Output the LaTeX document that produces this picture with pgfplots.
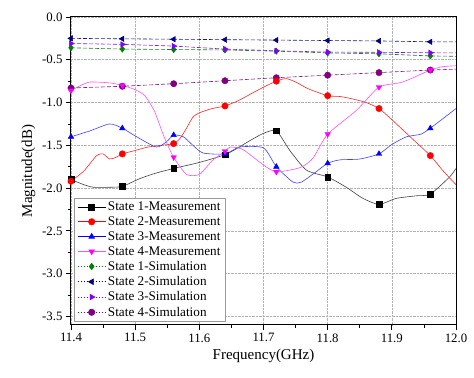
\documentclass[border=0pt]{standalone}
\usepackage{pgfplots}
\pgfplotsset{compat=1.18}
\usepackage{fontspec}
\setmainfont{Liberation Serif}
\definecolor{cmag}{RGB}{255,0,255}
\definecolor{cmagl}{RGB}{255,80,255}
\definecolor{cgreen}{RGB}{0,128,0}
\definecolor{cnavy}{RGB}{0,0,128}
\definecolor{cviolet}{RGB}{128,0,255}
\definecolor{cpurple}{RGB}{128,0,128}
\definecolor{cred}{RGB}{255,0,0}
\definecolor{cblue}{RGB}{0,0,255}
\begin{document}
\begin{tikzpicture}
\begin{axis}[
  scale only axis, width=385pt, height=308pt,
  xmin=11.4, xmax=12.0, ymin=-3.6, ymax=0,
  xtick={11.4,11.5,11.6,11.7,11.8,11.9,12.0},
  ytick={-3.5,-3.0,-2.5,-2.0,-1.5,-1.0,-0.5,0.0},
  minor x tick num=1, minor y tick num=1,
  tick pos=left, tick align=outside,
  major tick length=5pt, minor tick length=3pt,
  every tick/.style={black, line width=0.8pt},
  axis line style={line width=1pt},
  grid=major, grid style={densely dotted, gray!60, line width=0.6pt},
  tick label style={font=\fontsize{12.8}{14}\selectfont,
    /pgf/number format/fixed, /pgf/number format/fixed zerofill,
    /pgf/number format/precision=1, /pgf/number format/assume math mode=true},
  label style={font=\fontsize{15}{17}\selectfont},
  xlabel={Frequency(GHz)}, ylabel={Magnitude(dB)},
  legend cell align=left,
  legend style={at={(axis description cs:0.008,0.01)}, anchor=south west,
    font=\fontsize{13.2}{14}\selectfont, row sep=0.6pt, draw=gray!80, line width=0.6pt,
    inner xsep=3pt, inner ysep=2pt},
  legend image code/.code={\draw[mark repeat=2,mark phase=2,#1] plot coordinates {(0pt,0pt)(14pt,0pt)(28pt,0pt)};},
  mark size=3.2pt,
]
% legend entries
\addlegendimage{black, line width=0.6pt, mark=square*, mark options={solid,scale=0.9}}
\addlegendentry{State 1-Measurement}
\addlegendimage{cred, line width=0.6pt, mark=*, mark options={solid}}
\addlegendentry{State 2-Measurement}
\addlegendimage{cblue, line width=0.6pt, mark=triangle*, mark options={solid}}
\addlegendentry{State 3-Measurement}
\addlegendimage{cmagl, line width=0.6pt, mark=triangle*, mark options={solid,rotate=180,fill=cmag,draw=cmag}}
\addlegendentry{State 4-Measurement}
\addlegendimage{cgreen, line width=0.6pt, dash pattern=on 1.5pt off 1.5pt, mark=diamond*, mark options={solid}}
\addlegendentry{State 1-Simulation}
\addlegendimage{cnavy, line width=0.6pt, dash pattern=on 1.5pt off 1.5pt, mark=triangle*, mark options={solid,rotate=90}}
\addlegendentry{State 2-Simulation}
\addlegendimage{cviolet, line width=0.6pt, dash pattern=on 1.5pt off 1.5pt, mark=triangle*, mark options={solid,rotate=-90}}
\addlegendentry{State 3-Simulation}
\addlegendimage{cpurple, line width=0.6pt, dash pattern=on 1.5pt off 1.5pt, mark=*, mark options={solid}}
\addlegendentry{State 4-Simulation}

% simulations
\addplot[forget plot, cgreen!80!gray, line width=0.6pt, dash pattern=on 4pt off 2pt] coordinates {
(11.40,-0.36)(11.48,-0.375)(11.56,-0.38)(11.64,-0.385)(11.72,-0.40)(11.80,-0.42)(11.88,-0.43)(11.96,-0.455)(12.00,-0.46)};
\addplot[forget plot, cnavy!80!gray, line width=0.6pt, dash pattern=on 4pt off 2pt] coordinates {
(11.40,-0.25)(11.48,-0.255)(11.56,-0.26)(11.64,-0.265)(11.72,-0.27)(11.80,-0.275)(11.88,-0.28)(11.96,-0.29)(12.00,-0.29)};
\addplot[forget plot, cviolet!80!gray, line width=0.6pt, dash pattern=on 4pt off 2pt] coordinates {
(11.40,-0.31)(11.48,-0.32)(11.56,-0.34)(11.64,-0.375)(11.72,-0.395)(11.80,-0.41)(11.88,-0.413)(11.96,-0.418)(12.00,-0.42)};
\addplot[forget plot, cpurple!80!gray, line width=0.6pt, dash pattern=on 4pt off 2pt] coordinates {
(11.40,-0.83)(11.48,-0.81)(11.56,-0.78)(11.64,-0.745)(11.72,-0.71)(11.80,-0.68)(11.88,-0.65)(11.96,-0.62)(12.00,-0.61)};

% measurements: lines
\addplot[forget plot, black!75, line width=0.6pt, smooth, tension=0.4] coordinates {
(11.40,-1.90)(11.42,-1.96)(11.435,-1.99)(11.46,-1.99)(11.48,-1.98)(11.507,-1.89)(11.53,-1.83)(11.56,-1.77)(11.60,-1.70)(11.64,-1.61)(11.66,-1.53)(11.68,-1.44)(11.70,-1.36)(11.72,-1.33)(11.741,-1.56)(11.767,-1.79)(11.80,-1.87)(11.829,-1.99)(11.855,-2.12)(11.88,-2.19)(11.907,-2.12)(11.938,-2.09)(11.96,-2.07)(11.99,-1.87)(12.00,-1.77)};
\addplot[forget plot, cred!85, line width=0.6pt, smooth, tension=0.4] coordinates {
(11.40,-1.92)(11.42,-1.80)(11.44,-1.62)(11.45,-1.60)(11.46,-1.66)(11.47,-1.64)(11.48,-1.60)(11.50,-1.56)(11.52,-1.52)(11.54,-1.50)(11.56,-1.48)(11.57,-1.42)(11.58,-1.30)(11.59,-1.17)(11.60,-1.12)(11.62,-1.07)(11.64,-1.04)(11.66,-0.98)(11.68,-0.90)(11.70,-0.82)(11.72,-0.75)(11.735,-0.72)(11.75,-0.76)(11.77,-0.84)(11.80,-0.92)(11.82,-0.93)(11.84,-0.96)(11.86,-1.00)(11.88,-1.07)(11.90,-1.20)(11.92,-1.34)(11.94,-1.48)(11.96,-1.62)(11.98,-1.80)(12.00,-1.96)};
\addplot[forget plot, cblue!75, line width=0.6pt, smooth, tension=0.4] coordinates {
(11.40,-1.40)(11.43,-1.33)(11.46,-1.25)(11.48,-1.30)(11.50,-1.39)(11.533,-1.52)(11.55,-1.45)(11.56,-1.38)(11.575,-1.40)(11.59,-1.50)(11.606,-1.59)(11.64,-1.60)(11.663,-1.52)(11.70,-1.53)(11.72,-1.75)(11.746,-1.93)(11.759,-1.93)(11.78,-1.82)(11.80,-1.71)(11.819,-1.67)(11.85,-1.66)(11.88,-1.60)(11.90,-1.49)(11.923,-1.40)(11.945,-1.37)(11.96,-1.30)(12.00,-1.07)};
\addplot[forget plot, cmagl, line width=0.6pt, smooth, tension=0.4] coordinates {
(11.40,-0.86)(11.415,-0.80)(11.43,-0.76)(11.46,-0.77)(11.48,-0.80)(11.50,-0.85)(11.515,-0.92)(11.53,-1.10)(11.545,-1.40)(11.56,-1.64)(11.58,-1.84)(11.60,-1.84)(11.62,-1.68)(11.64,-1.57)(11.648,-1.52)(11.668,-1.55)(11.70,-1.73)(11.72,-1.81)(11.757,-1.76)(11.777,-1.65)(11.80,-1.37)(11.845,-1.09)(11.88,-0.82)(11.917,-0.76)(11.96,-0.62)(11.98,-0.58)(12.00,-0.57)};

% simulation markers
\addplot[forget plot, only marks, mark=diamond*, cgreen] coordinates {
(11.40,-0.36)(11.48,-0.375)(11.56,-0.38)(11.64,-0.385)(11.72,-0.40)(11.80,-0.42)(11.88,-0.43)(11.96,-0.455)};
\addplot[forget plot, only marks, mark=triangle*, mark options={rotate=90}, cnavy] coordinates {
(11.40,-0.25)(11.48,-0.255)(11.56,-0.26)(11.64,-0.265)(11.72,-0.27)(11.80,-0.275)(11.88,-0.28)(11.96,-0.29)};
\addplot[forget plot, only marks, mark=triangle*, mark options={rotate=-90}, cviolet] coordinates {
(11.40,-0.31)(11.48,-0.32)(11.56,-0.34)(11.64,-0.375)(11.72,-0.395)(11.80,-0.41)(11.88,-0.413)(11.96,-0.418)};
\addplot[forget plot, only marks, mark=*, cpurple] coordinates {
(11.40,-0.83)(11.48,-0.81)(11.56,-0.78)(11.64,-0.745)(11.72,-0.71)(11.80,-0.68)(11.88,-0.65)(11.96,-0.62)};

% measurement markers
\addplot[forget plot, only marks, mark=square*, mark options={scale=0.9}, black] coordinates {
(11.40,-1.90)(11.48,-1.98)(11.56,-1.77)(11.64,-1.61)(11.72,-1.33)(11.80,-1.87)(11.88,-2.19)(11.96,-2.07)};
\addplot[forget plot, only marks, mark=*, cred] coordinates {
(11.40,-1.92)(11.48,-1.60)(11.56,-1.48)(11.64,-1.04)(11.72,-0.75)(11.80,-0.92)(11.88,-1.07)(11.96,-1.62)};
\addplot[forget plot, only marks, mark=triangle*, cblue] coordinates {
(11.40,-1.40)(11.48,-1.30)(11.56,-1.38)(11.64,-1.60)(11.72,-1.75)(11.80,-1.71)(11.88,-1.60)(11.96,-1.30)};
\addplot[forget plot, only marks, mark=triangle*, mark options={rotate=180}, cmag] coordinates {
(11.40,-0.86)(11.48,-0.80)(11.56,-1.64)(11.64,-1.57)(11.72,-1.81)(11.80,-1.37)(11.88,-0.82)(11.96,-0.62)};
\end{axis}
\path ([xshift=-71pt,yshift=-53pt]current axis.south west) rectangle ([xshift=18pt,yshift=17pt]current axis.north east);
\end{tikzpicture}
\end{document}
